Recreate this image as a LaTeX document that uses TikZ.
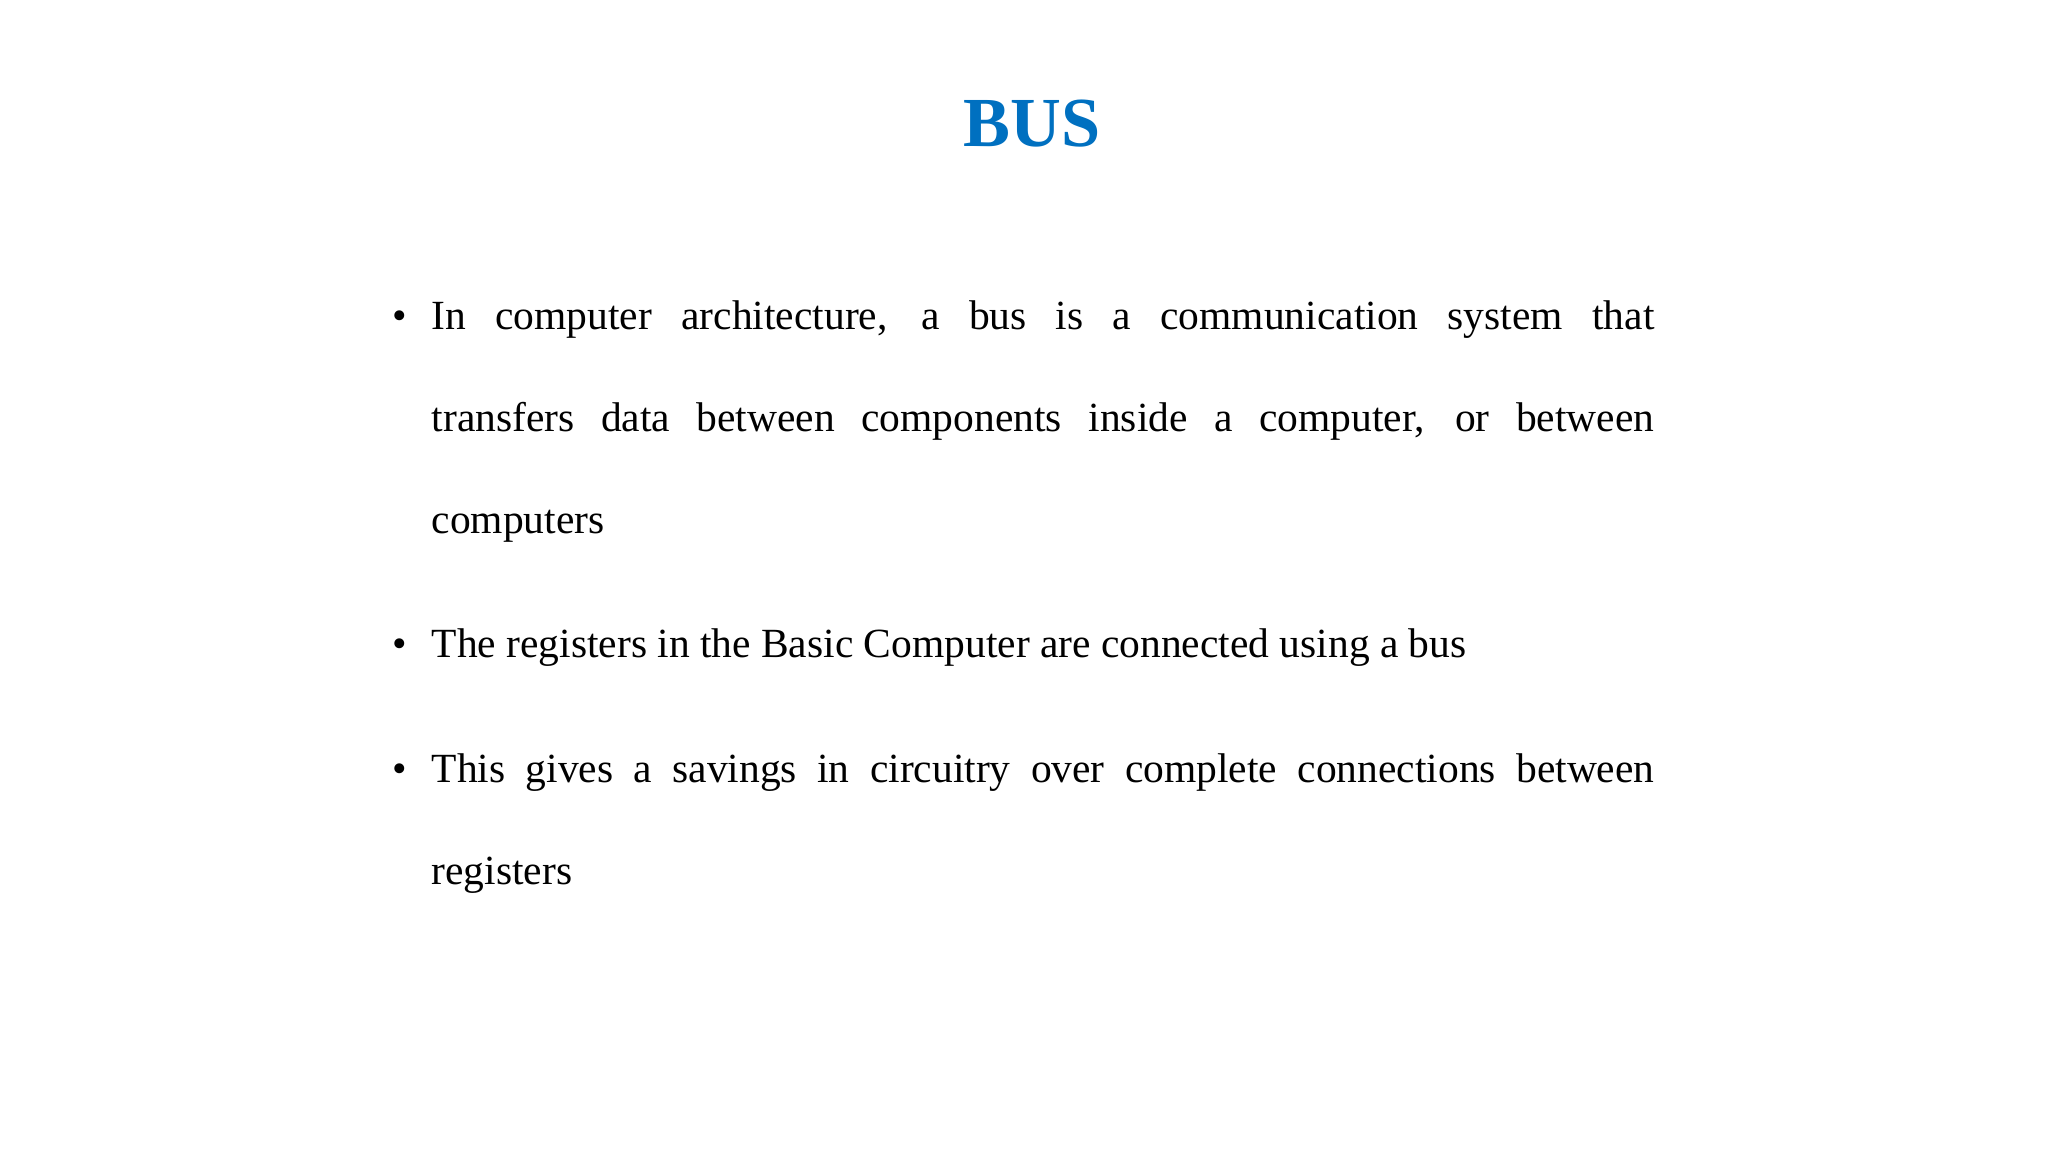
\documentclass[tikz,border=0pt]{standalone}
\usepackage{fontspec}
\setmainfont{Liberation Serif}
\definecolor{titleblue}{RGB}{0,112,192}
\begin{document}
\begin{tikzpicture}[x=0.01cm,y=-0.01cm,
  txt/.style={anchor=base west,inner sep=0pt,font=\fontsize{11.8pt}{14pt}\selectfont},
  bul/.style={anchor=base west,inner sep=0pt,font=\fontsize{11.8pt}{14pt}\selectfont}]
\useasboundingbox[fill=white] (0,0) rectangle (2048,1152);
\node[anchor=base,inner sep=0pt,text=titleblue,font=\fontsize{20pt}{24pt}\selectfont\bfseries] (title) at (1032,147) {BUS};
\node[bul] (b1) at (392,330) {\textbullet};
\node[txt] (l1) at (431,330) {\makebox[12.22cm][s]{In computer architecture, a bus is a communication system that}};
\node[txt] (l2) at (431,432) {\makebox[12.22cm][s]{transfers data between components inside a computer, or between}};
\node[txt] (l3) at (431,534) {computers};
\node[bul] (b2) at (392,657) {\textbullet};
\node[txt] (l4) at (431,657) {The registers in the Basic Computer are connected using a bus};
\node[bul] (b3) at (392,782) {\textbullet};
\node[txt] (l5) at (431,782) {\makebox[12.22cm][s]{This gives a savings in circuitry over complete connections between}};
\node[txt] (l6) at (431,884) {registers};
\end{tikzpicture}
\end{document}
